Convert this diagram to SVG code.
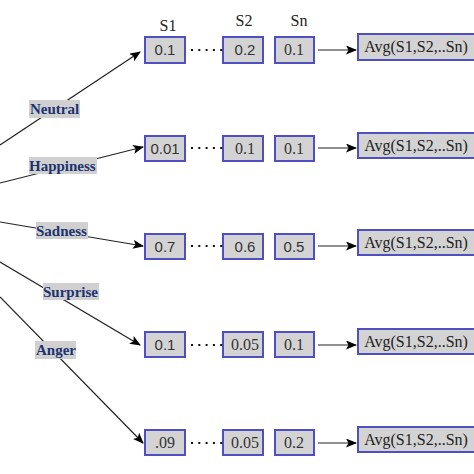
<svg xmlns="http://www.w3.org/2000/svg" width="474" height="474" viewBox="0 0 474 474">
<defs>
<marker id="ah" markerWidth="11" markerHeight="9" refX="10" refY="4.5" orient="auto" markerUnits="userSpaceOnUse">
<path d="M0,0 L11,4.5 L0,9 L2.5,4.5 Z" fill="#000"/>
</marker>
<style>
.box{fill:#d3d3d3;stroke:#4f4fc0;stroke-width:2}
.num{font-family:"Liberation Sans",Arial,sans-serif;font-size:15px;fill:#333;text-anchor:middle}
.numr{font-family:"Liberation Serif","Times New Roman",serif;font-size:16px;fill:#333;text-anchor:middle}
.avg{font-family:"Liberation Serif","Times New Roman",serif;font-size:16px;fill:#222;text-anchor:middle}
.hdr{font-family:"Liberation Serif","Times New Roman",serif;font-size:16px;fill:#222;text-anchor:middle}
.lbl{font-family:"Liberation Serif","Times New Roman",serif;font-size:15px;font-weight:bold;fill:#1d3370}
.lblbg{fill:#d0d0d0}
.ln{stroke:#222;stroke-width:1.2;fill:none}
.dot{stroke:#111;stroke-width:2;stroke-dasharray:2 5.3;fill:none}
</style>
</defs>
<rect width="474" height="474" fill="#fff"/>

<g id="connectors">
<line class="ln" x1="0" y1="145" x2="140" y2="52" marker-end="url(#ah)"/>
<line class="ln" x1="0" y1="183" x2="143" y2="147" marker-end="url(#ah)"/>
<line class="ln" x1="0" y1="222" x2="143" y2="246" marker-end="url(#ah)"/>
<line class="ln" x1="0" y1="262" x2="140" y2="345" marker-end="url(#ah)"/>
<line class="ln" x1="0" y1="297" x2="143" y2="443" marker-end="url(#ah)"/>
<line class="dot" x1="191" y1="50" x2="226" y2="50"/>
<line class="dot" x1="191" y1="148" x2="226" y2="148"/>
<line class="dot" x1="191" y1="246" x2="226" y2="246"/>
<line class="dot" x1="191" y1="345" x2="226" y2="345"/>
<line class="dot" x1="191" y1="443" x2="226" y2="443"/>
<line class="ln" x1="318" y1="50" x2="356" y2="50" marker-end="url(#ah)"/>
<line class="ln" x1="318" y1="148" x2="356" y2="148" marker-end="url(#ah)"/>
<line class="ln" x1="318" y1="246" x2="356" y2="246" marker-end="url(#ah)"/>
<line class="ln" x1="318" y1="345" x2="356" y2="345" marker-end="url(#ah)"/>
<line class="ln" x1="318" y1="443" x2="356" y2="443" marker-end="url(#ah)"/>
</g>

<g id="headers">
<text class="hdr" x="168" y="31">S1</text>
<text class="hdr" x="244" y="26">S2</text>
<text class="hdr" x="299" y="26">Sn</text>
</g>

<g id="label-neutral"><rect class="lblbg" x="29" y="100" width="51" height="18"/><text class="lbl" x="30" y="114">Neutral</text></g>
<g id="label-happiness"><rect class="lblbg" x="29" y="157" width="68" height="17"/><text class="lbl" x="29" y="171">Happiness</text></g>
<g id="label-sadness"><rect class="lblbg" x="36" y="222" width="52" height="17"/><text class="lbl" x="36" y="236">Sadness</text></g>
<g id="label-surprise"><rect class="lblbg" x="43" y="283" width="56" height="17"/><text class="lbl" x="43" y="297">Surprise</text></g>
<g id="label-anger"><rect class="lblbg" x="35" y="341" width="41" height="18"/><text class="lbl" x="36" y="355">Anger</text></g>

<g id="row1">
<rect class="box" x="145" y="37" width="40" height="26"/><text class="num" x="165" y="55">0.1</text>
<rect class="box" x="223" y="37" width="40" height="26"/><text class="num" x="245" y="55">0.2</text>
<rect class="box" x="275" y="37" width="39" height="26"/><text class="numr" x="294" y="55">0.1</text>
<rect class="box" x="358" y="34" width="120" height="26"/><text class="avg" x="416" y="52">Avg(S1,S2,..Sn)</text>
</g>
<g id="row2">
<rect class="box" x="145" y="136" width="40" height="25"/><text class="num" x="165" y="154">0.01</text>
<rect class="box" x="223" y="136" width="40" height="25"/><text class="numr" x="245" y="154">0.1</text>
<rect class="box" x="275" y="136" width="39" height="25"/><text class="numr" x="294" y="154">0.1</text>
<rect class="box" x="358" y="133" width="120" height="25"/><text class="avg" x="416" y="151">Avg(S1,S2,..Sn)</text>
</g>
<g id="row3">
<rect class="box" x="145" y="234" width="40" height="25"/><text class="num" x="165" y="252">0.7</text>
<rect class="box" x="223" y="234" width="40" height="25"/><text class="num" x="245" y="252">0.6</text>
<rect class="box" x="275" y="234" width="39" height="25"/><text class="num" x="294" y="252">0.5</text>
<rect class="box" x="358" y="230" width="120" height="25"/><text class="avg" x="416" y="248">Avg(S1,S2,..Sn)</text>
</g>
<g id="row4">
<rect class="box" x="145" y="332" width="40" height="25"/><text class="num" x="165" y="350">0.1</text>
<rect class="box" x="223" y="332" width="40" height="25"/><text class="numr" x="245" y="350">0.05</text>
<rect class="box" x="275" y="332" width="39" height="25"/><text class="numr" x="294" y="350">0.1</text>
<rect class="box" x="358" y="329" width="120" height="25"/><text class="avg" x="416" y="347">Avg(S1,S2,..Sn)</text>
</g>
<g id="row5">
<rect class="box" x="145" y="430" width="40" height="25"/><text class="numr" x="165" y="448">.09</text>
<rect class="box" x="223" y="430" width="40" height="25"/><text class="numr" x="245" y="448">0.05</text>
<rect class="box" x="275" y="430" width="39" height="25"/><text class="numr" x="294" y="448">0.2</text>
<rect class="box" x="358" y="427" width="120" height="25"/><text class="avg" x="416" y="445">Avg(S1,S2,..Sn)</text>
</g>
</svg>
